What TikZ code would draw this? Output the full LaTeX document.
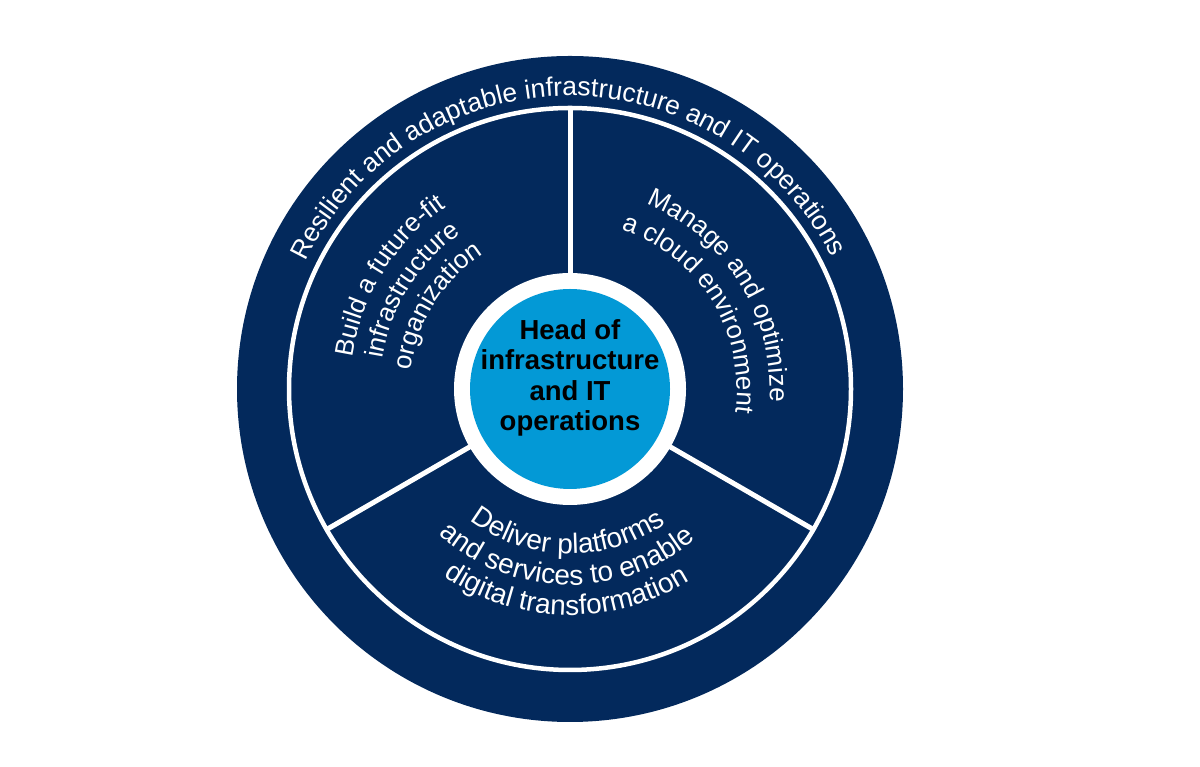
\documentclass[tikz,border=0pt]{standalone}
\usepackage{fontspec}
\setmainfont{Liberation Sans}
\newfontfamily\headfont{Liberation Sans}
\usetikzlibrary{decorations.text}
\definecolor{navy}{RGB}{3,41,92}
\definecolor{cyanblue}{RGB}{3,153,214}
\tikzset{
  arctext/.style={decorate, decoration={text along path, text align=center, text color=white, text={#1}}},
  divider/.style={white, line width=5pt},
  ringline/.style={white, line width=4.5pt},
}
\begin{document}
\begin{tikzpicture}
\fill[white] (0,0) rectangle (1200pt,767pt);
\useasboundingbox (0,0) rectangle (1200pt,767pt);
\begin{scope}[shift={(570pt,378pt)}]
  \fill[navy] (0,0) circle[radius=333pt];
  \draw[ringline] (0,0) circle[radius=281pt];
  \foreach \a in {90,210,330} \draw[divider] (\a:112pt) -- (\a:283pt);
  \fill[white] (0,0) circle[radius=116pt];
  \fill[cyanblue] (0,0) circle[radius=100pt];
  \node[font=\headfont\bfseries\fontsize{27.5pt}{30.5pt}\selectfont, align=center, text=black] (head) at (0pt,11pt) {Head of\\infrastructure\\and IT\\operations};
  % outer band
  \path[arctext={|\fontsize{26.5pt}{30pt}\selectfont|Resilient and adaptable infrastructure and IT operations}] (165:293pt) arc[start angle=165, end angle=16, radius=293pt];
  % left sector
  \path[arctext={|\fontsize{26pt}{30pt}\selectfont|Build a future-fit}] (190:220pt) arc[start angle=190, end angle=106, radius=220pt];
  \path[arctext={|\fontsize{26pt}{30pt}\selectfont|infrastructure}] (190:190pt) arc[start angle=190, end angle=106, radius=190pt];
  \path[arctext={|\fontsize{26pt}{30pt}\selectfont|organization}] (190:160pt) arc[start angle=190, end angle=106, radius=160pt];
  % right sector
  \path[arctext={|\fontsize{26pt}{30pt}\selectfont|Manage and optimize}] (80:200pt) arc[start angle=80, end angle=-16, radius=200pt];
  \path[arctext={|\fontsize{26pt}{30pt}\selectfont|a cloud environment}] (80:167pt) arc[start angle=80, end angle=-16, radius=167pt];
  % bottom sector
  \path[arctext={|\fontsize{28pt}{31pt}\selectfont|Deliver platforms}] (215:165pt) arc[start angle=215, end angle=323, radius=165pt];
  \path[arctext={|\fontsize{28pt}{31pt}\selectfont|and services to enable}] (215:196pt) arc[start angle=215, end angle=323, radius=196pt];
  \path[arctext={|\fontsize{28pt}{31pt}\selectfont|digital transformation}] (215:226pt) arc[start angle=215, end angle=323, radius=226pt];
\end{scope}
\end{tikzpicture}
\end{document}
